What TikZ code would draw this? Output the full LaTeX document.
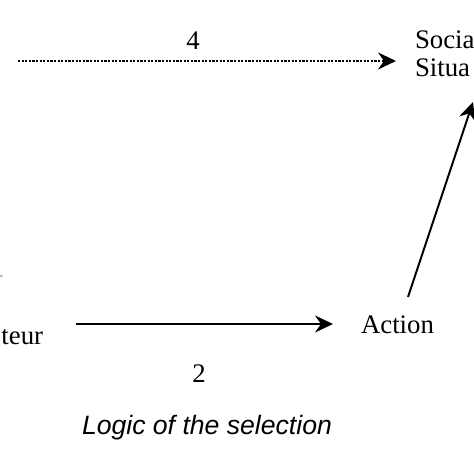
\documentclass[tikz,border=0pt]{standalone}
\usepackage{fontspec}
\setmainfont{Liberation Serif}
\newfontfamily\labsans{Liberation Sans}
\usetikzlibrary{arrows.meta}
\tikzset{
  lbl/.style={inner sep=0pt, outer sep=0pt, anchor=base west, font=\fontsize{26.8}{28}\selectfont},
  num/.style={inner sep=0pt, anchor=base, font=\fontsize{26.8}{28}\selectfont},
  conn/.style={line width=2pt, -{Stealth[length=18pt,width=17pt,inset=6pt]}},
  dotconn/.style={conn, dash pattern=on 2.2pt off 1.4pt},
}
\begin{document}
\begin{tikzpicture}[x=1pt,y=1pt]
\useasboundingbox (0,0) rectangle (474,474);
\clip (0,0) rectangle (474,474);
\fill[white] (0,0) rectangle (474,474);
% nodes
\node[lbl] (socia) at (415,425) {Socia};
\node[lbl] (situa) at (415,397) {Situa};
\node[lbl] (acteur) at (1.5,129) {teur};
\node[lbl] (action) at (361,140) {Action};
\node[num] (four) at (193,424) {4};
\node[num] (two) at (199,91) {2};
\node[lbl, font={\labsans\itshape\fontsize{26.6}{28}\selectfont}] (logic) at (82,39) {Logic of the selection};
% connector end points
\coordinate (dotstart) at (18,413);
\coordinate (dotend) at (396,413);
\coordinate (solstart) at (76,150);
\coordinate (solend) at (333,150);
\coordinate (diagstart) at (408,177);
\coordinate (diagend) at (473,372);
\coordinate (markA) at (0.5,199);
\coordinate (markB) at (2,197);
% connectors
\draw[dotconn] (dotstart) -- (dotend);
\draw[conn] (solstart) -- (solend);
\draw[conn] (diagstart) -- (diagend);
\draw[black!35, line width=1.5pt] (markA) -- (markB);
\end{tikzpicture}
\end{document}
